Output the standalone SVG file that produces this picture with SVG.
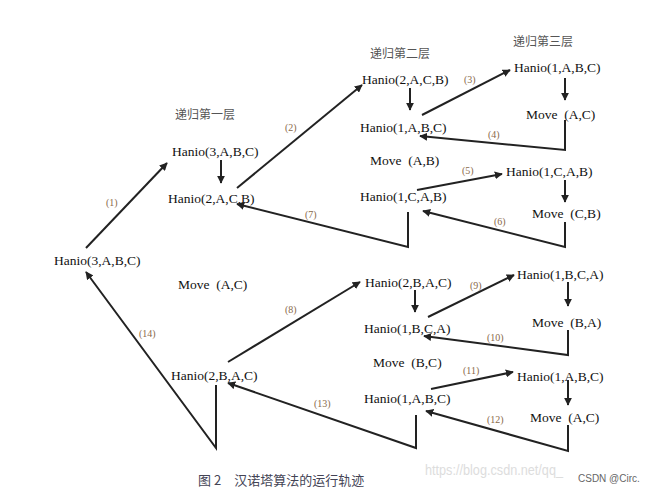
<svg xmlns="http://www.w3.org/2000/svg" width="653" height="494" viewBox="0 0 653 494">
<defs>
<marker id="ah" viewBox="0 0 10 10" refX="9" refY="5" markerWidth="8" markerHeight="8" markerUnits="userSpaceOnUse" orient="auto"><path d="M0,0 L10,5 L0,10 z" fill="#222"/></marker>
<style>
.t{font-family:"Liberation Serif",serif;font-size:13.5px;fill:#111;white-space:pre}
.h{font-family:"Noto Sans CJK SC",sans-serif;font-size:12px;fill:#555}
.l{font-family:"Liberation Serif",serif;font-size:10px;fill:#8a6a4a}
.c{stroke:#222;stroke-width:2;fill:none;marker-end:url(#ah)}
</style>
</defs>
<rect width="653" height="494" fill="#fff"/>
<text class="h" x="513" y="46">递归第三层</text>
<text class="h" x="370" y="58">递归第二层</text>
<text class="h" x="175" y="119">递归第一层</text>
<g id="n1"><text class="t" x="54" y="265">Hanio(3,A,B,C)</text></g>
<g id="n2"><text class="t" x="172" y="156">Hanio(3,A,B,C)</text></g>
<g id="n3"><text class="t" x="168" y="203">Hanio(2,A,C,B)</text></g>
<g id="n4"><text class="t" x="178" y="289">Move  (A,C)</text></g>
<g id="n5"><text class="t" x="171" y="380">Hanio(2,B,A,C)</text></g>
<g id="n6"><text class="t" x="362" y="84">Hanio(2,A,C,B)</text></g>
<g id="n7"><text class="t" x="360" y="132">Hanio(1,A,B,C)</text></g>
<g id="n8"><text class="t" x="370" y="165">Move  (A,B)</text></g>
<g id="n9"><text class="t" x="360" y="201">Hanio(1,C,A,B)</text></g>
<g id="n10"><text class="t" x="514" y="72">Hanio(1,A,B,C)</text></g>
<g id="n11"><text class="t" x="526" y="119">Move  (A,C)</text></g>
<g id="n12"><text class="t" x="506" y="176">Hanio(1,C,A,B)</text></g>
<g id="n13"><text class="t" x="532" y="218">Move  (C,B)</text></g>
<g id="n14"><text class="t" x="365" y="287">Hanio(2,B,A,C)</text></g>
<g id="n15"><text class="t" x="364" y="333">Hanio(1,B,C,A)</text></g>
<g id="n16"><text class="t" x="373" y="367">Move  (B,C)</text></g>
<g id="n17"><text class="t" x="364" y="403">Hanio(1,A,B,C)</text></g>
<g id="n18"><text class="t" x="517" y="279">Hanio(1,B,C,A)</text></g>
<g id="n19"><text class="t" x="532" y="327">Move  (B,A)</text></g>
<g id="n20"><text class="t" x="517" y="381">Hanio(1,A,B,C)</text></g>
<g id="n21"><text class="t" x="530" y="422">Move  (A,C)</text></g>
<g id="connectors">
<path class="c" d="M86,248 L167,163"/>
<path class="c" d="M221,160 L221,183"/>
<path class="c" d="M237,188 L362,85"/>
<path class="c" d="M410,88 L410,110"/>
<path class="c" d="M422,115 L510,70"/>
<path class="c" d="M565,78 L565,100"/>
<path class="c" d="M565,120 L565,150 L420,136"/>
<path class="c" d="M417,190 L502,174"/>
<path class="c" d="M565,180 L565,202"/>
<path class="c" d="M565,222 L565,247 L423,211"/>
<path class="c" d="M408,212 L408,247 L237,204"/>
<path class="c" d="M228,362 L360,282"/>
<path class="c" d="M415,290 L415,312"/>
<path class="c" d="M428,317 L514,275"/>
<path class="c" d="M568,282 L568,306"/>
<path class="c" d="M568,330 L568,355 L424,336"/>
<path class="c" d="M431,389 L513,372"/>
<path class="c" d="M568,380 L568,405"/>
<path class="c" d="M568,425 L568,451 L426,411"/>
<path class="c" d="M416,415 L416,448 L228,383"/>
<path class="c" d="M216,385 L216,448 L86,272"/>
<text class="l" x="106" y="206">(1)</text>
<text class="l" x="285" y="131">(2)</text>
<text class="l" x="464" y="83">(3)</text>
<text class="l" x="488" y="138">(4)</text>
<text class="l" x="462" y="174">(5)</text>
<text class="l" x="494" y="225">(6)</text>
<text class="l" x="305" y="218">(7)</text>
<text class="l" x="285" y="313">(8)</text>
<text class="l" x="470" y="289">(9)</text>
<text class="l" x="487" y="341">(10)</text>
<text class="l" x="463" y="374">(11)</text>
<text class="l" x="487" y="423">(12)</text>
<text class="l" x="314" y="407">(13)</text>
<text class="l" x="139" y="337">(14)</text>
</g>
<text x="198" y="485" style="font-family:'Noto Sans CJK SC',sans-serif;font-size:13px;fill:#445">图 2　汉诺塔算法的运行轨迹</text>
<text x="425" y="475" textLength="138" lengthAdjust="spacingAndGlyphs" style="font-family:'Liberation Sans',sans-serif;font-size:15px;fill:#ddd">https://blog.csdn.net/qq_</text>
<text x="578" y="482" style="font-family:'Liberation Sans',sans-serif;font-size:10px;fill:#666">CSDN @Circ.</text>
</svg>
